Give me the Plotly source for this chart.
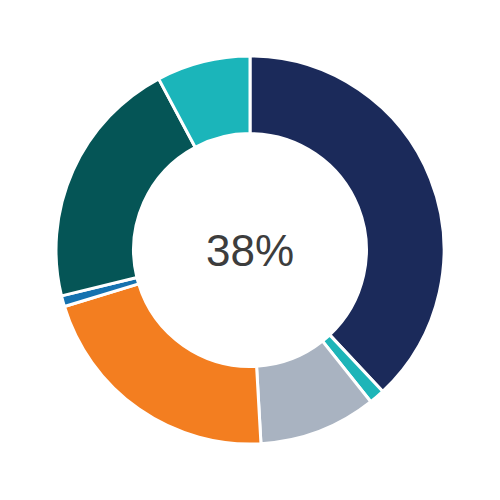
import plotly.graph_objects as go

labels = ['A', 'B', 'C', 'D', 'E', 'F', 'G']
values = [38, 1.3, 9.8, 21.2, 0.9, 21.0, 7.8]
colors = ['#1b2a5a', '#1db5b8', '#a9b3c1', '#f37e20', '#1572b0', '#055556', '#1bb5ba']

fig = go.Figure()
fig.add_trace(go.Pie(labels=labels, values=values, hole=0.6, sort=False,
                     direction='clockwise', rotation=0,
                     marker=dict(colors=colors, line=dict(color='white', width=3)),
                     textinfo='none', hoverinfo='label+percent', showlegend=False))

fig.add_annotation(text='38%', x=0.5, y=0.5, xref='paper', yref='paper', showarrow=False,
                   font=dict(family='Liberation Sans, Arial', size=44, color='#3d3d3d'))

fig.update_layout(width=500, height=500, paper_bgcolor='white', plot_bgcolor='white',
                  margin=dict(l=48, r=64, t=48, b=64))
fig.write_html("out.html")
